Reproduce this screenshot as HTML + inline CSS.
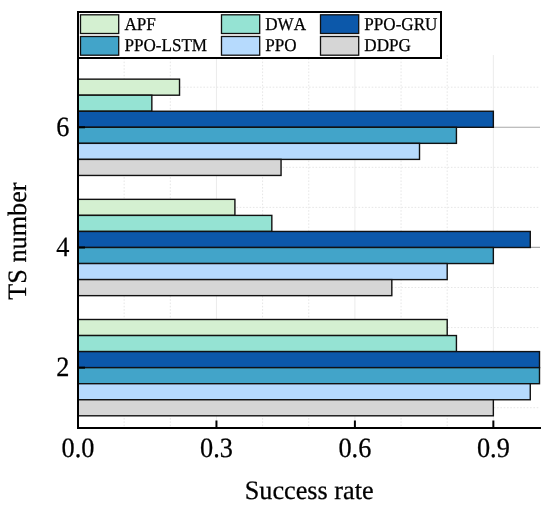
<!DOCTYPE html><html><head><meta charset="utf-8"><style>html,body{margin:0;padding:0;background:#fff;width:550px;height:507px;overflow:hidden}svg{display:block;will-change:transform}text{font-family:"Liberation Serif",serif;fill:#000;font-kerning:none;text-rendering:geometricPrecision;stroke:#000;stroke-width:0.25px}</style></head><body>
<svg width="550" height="507" viewBox="0 0 550 507">
<rect width="550" height="507" fill="#fff"/>
<line x1="124.15" y1="55.0" x2="124.15" y2="428.0" stroke="#e6e6e6" stroke-width="1" stroke-dasharray="1.6 1.7"/>
<line x1="170.30" y1="55.0" x2="170.30" y2="428.0" stroke="#e6e6e6" stroke-width="1" stroke-dasharray="1.6 1.7"/>
<line x1="216.45" y1="55.0" x2="216.45" y2="428.0" stroke="#ebebeb" stroke-width="1"/>
<line x1="262.60" y1="55.0" x2="262.60" y2="428.0" stroke="#e6e6e6" stroke-width="1" stroke-dasharray="1.6 1.7"/>
<line x1="308.75" y1="55.0" x2="308.75" y2="428.0" stroke="#e6e6e6" stroke-width="1" stroke-dasharray="1.6 1.7"/>
<line x1="354.90" y1="55.0" x2="354.90" y2="428.0" stroke="#ebebeb" stroke-width="1"/>
<line x1="401.05" y1="55.0" x2="401.05" y2="428.0" stroke="#e6e6e6" stroke-width="1" stroke-dasharray="1.6 1.7"/>
<line x1="447.20" y1="55.0" x2="447.20" y2="428.0" stroke="#e6e6e6" stroke-width="1" stroke-dasharray="1.6 1.7"/>
<line x1="493.35" y1="55.0" x2="493.35" y2="428.0" stroke="#ebebeb" stroke-width="1"/>
<line x1="78.0" y1="407.72" x2="540.0" y2="407.72" stroke="#e6e6e6" stroke-width="1" stroke-dasharray="1.6 1.7"/>
<line x1="78.0" y1="367.65" x2="540.0" y2="367.65" stroke="#a8a8a8" stroke-width="1.2"/>
<line x1="78.0" y1="327.58" x2="540.0" y2="327.58" stroke="#e6e6e6" stroke-width="1" stroke-dasharray="1.6 1.7"/>
<line x1="78.0" y1="287.52" x2="540.0" y2="287.52" stroke="#e6e6e6" stroke-width="1" stroke-dasharray="1.6 1.7"/>
<line x1="78.0" y1="247.45" x2="540.0" y2="247.45" stroke="#a8a8a8" stroke-width="1.2"/>
<line x1="78.0" y1="207.38" x2="540.0" y2="207.38" stroke="#e6e6e6" stroke-width="1" stroke-dasharray="1.6 1.7"/>
<line x1="78.0" y1="167.32" x2="540.0" y2="167.32" stroke="#e6e6e6" stroke-width="1" stroke-dasharray="1.6 1.7"/>
<line x1="78.0" y1="127.25" x2="540.0" y2="127.25" stroke="#a8a8a8" stroke-width="1.2"/>
<line x1="78.0" y1="87.18" x2="540.0" y2="87.18" stroke="#e6e6e6" stroke-width="1" stroke-dasharray="1.6 1.7"/>
<rect x="78.00" y="79.15" width="101.53" height="16.05" fill="#d4f0d1" stroke="#111" stroke-width="1.4"/>
<rect x="78.00" y="95.20" width="73.84" height="16.05" fill="#95e3d3" stroke="#111" stroke-width="1.4"/>
<rect x="78.00" y="111.25" width="415.35" height="16.05" fill="#0c58aa" stroke="#111" stroke-width="1.4"/>
<rect x="78.00" y="127.30" width="378.43" height="16.05" fill="#42a4c9" stroke="#111" stroke-width="1.4"/>
<rect x="78.00" y="143.35" width="341.51" height="16.05" fill="#b6dafd" stroke="#111" stroke-width="1.4"/>
<rect x="78.00" y="159.40" width="203.06" height="16.05" fill="#d6d6d6" stroke="#111" stroke-width="1.4"/>
<rect x="78.00" y="199.35" width="156.91" height="16.05" fill="#d4f0d1" stroke="#111" stroke-width="1.4"/>
<rect x="78.00" y="215.40" width="193.83" height="16.05" fill="#95e3d3" stroke="#111" stroke-width="1.4"/>
<rect x="78.00" y="231.45" width="452.27" height="16.05" fill="#0c58aa" stroke="#111" stroke-width="1.4"/>
<rect x="78.00" y="247.50" width="415.35" height="16.05" fill="#42a4c9" stroke="#111" stroke-width="1.4"/>
<rect x="78.00" y="263.55" width="369.20" height="16.05" fill="#b6dafd" stroke="#111" stroke-width="1.4"/>
<rect x="78.00" y="279.60" width="313.82" height="16.05" fill="#d6d6d6" stroke="#111" stroke-width="1.4"/>
<rect x="78.00" y="319.50" width="369.20" height="16.05" fill="#d4f0d1" stroke="#111" stroke-width="1.4"/>
<rect x="78.00" y="335.55" width="378.43" height="16.05" fill="#95e3d3" stroke="#111" stroke-width="1.4"/>
<rect x="78.00" y="351.60" width="461.50" height="16.05" fill="#0c58aa" stroke="#111" stroke-width="1.4"/>
<rect x="78.00" y="367.65" width="461.50" height="16.05" fill="#42a4c9" stroke="#111" stroke-width="1.4"/>
<rect x="78.00" y="383.70" width="452.27" height="16.05" fill="#b6dafd" stroke="#111" stroke-width="1.4"/>
<rect x="78.00" y="399.75" width="415.35" height="16.05" fill="#d6d6d6" stroke="#111" stroke-width="1.4"/>
<line x1="78.0" y1="11" x2="78.0" y2="429.0" stroke="#000" stroke-width="2"/>
<line x1="77.0" y1="428.0" x2="541.0" y2="428.0" stroke="#000" stroke-width="2"/>
<line x1="216.45" y1="428.0" x2="216.45" y2="420.5" stroke="#000" stroke-width="2"/>
<line x1="354.90" y1="428.0" x2="354.90" y2="420.5" stroke="#000" stroke-width="2"/>
<line x1="493.35" y1="428.0" x2="493.35" y2="420.5" stroke="#000" stroke-width="2"/>
<line x1="78.0" y1="367.65" x2="85.0" y2="367.65" stroke="#000" stroke-width="2"/>
<line x1="78.0" y1="247.5" x2="85.0" y2="247.5" stroke="#000" stroke-width="2"/>
<line x1="78.0" y1="127.3" x2="85.0" y2="127.3" stroke="#000" stroke-width="2"/>
<text transform="translate(78.00,456.50) scale(1,1.06)" font-size="26.3" text-anchor="middle">0.0</text>
<text transform="translate(216.45,456.50) scale(1,1.06)" font-size="26.3" text-anchor="middle">0.3</text>
<text transform="translate(354.90,456.50) scale(1,1.06)" font-size="26.3" text-anchor="middle">0.6</text>
<text transform="translate(493.35,456.50) scale(1,1.06)" font-size="26.3" text-anchor="middle">0.9</text>
<text transform="translate(69.30,375.85) scale(1,1.06)" font-size="26.3" text-anchor="end">2</text>
<text transform="translate(69.30,255.70) scale(1,1.06)" font-size="26.3" text-anchor="end">4</text>
<text transform="translate(69.30,135.50) scale(1,1.06)" font-size="26.3" text-anchor="end">6</text>
<text transform="translate(309.20,498.80) scale(0.99,1.0)" font-size="26.5" text-anchor="middle">Success rate</text>
<text transform="translate(26.30,241.10) rotate(-90) scale(0.99,1.0)" font-size="26.5" text-anchor="middle">TS number</text>
<rect x="78" y="12" width="363" height="46" fill="#fff" stroke="#000" stroke-width="2"/>
<rect x="80.5" y="14.8" width="38.2" height="18.7" fill="#d4f0d1" stroke="#111" stroke-width="1.3"/>
<text transform="translate(124.40,30.30) scale(1.0,1.06)" font-size="17.1">APF</text>
<rect x="221.5" y="14.8" width="38.2" height="18.7" fill="#95e3d3" stroke="#111" stroke-width="1.3"/>
<text transform="translate(265.20,30.30) scale(1.0,1.06)" font-size="17.1">DWA</text>
<rect x="320.5" y="14.8" width="38.2" height="18.7" fill="#0c58aa" stroke="#111" stroke-width="1.3"/>
<text transform="translate(364.30,30.30) scale(1.0,1.06)" font-size="17.1">PPO-GRU</text>
<rect x="80.5" y="36.5" width="38.2" height="18.7" fill="#42a4c9" stroke="#111" stroke-width="1.3"/>
<text transform="translate(124.40,51.10) scale(1.0,1.06)" font-size="17.1">PPO-LSTM</text>
<rect x="221.5" y="36.5" width="38.2" height="18.7" fill="#b6dafd" stroke="#111" stroke-width="1.3"/>
<text transform="translate(265.20,51.10) scale(1.0,1.06)" font-size="17.1">PPO</text>
<rect x="320.5" y="36.5" width="38.2" height="18.7" fill="#d6d6d6" stroke="#111" stroke-width="1.3"/>
<text transform="translate(364.30,51.10) scale(1.0,1.06)" font-size="17.1">DDPG</text>
</svg></body></html>
